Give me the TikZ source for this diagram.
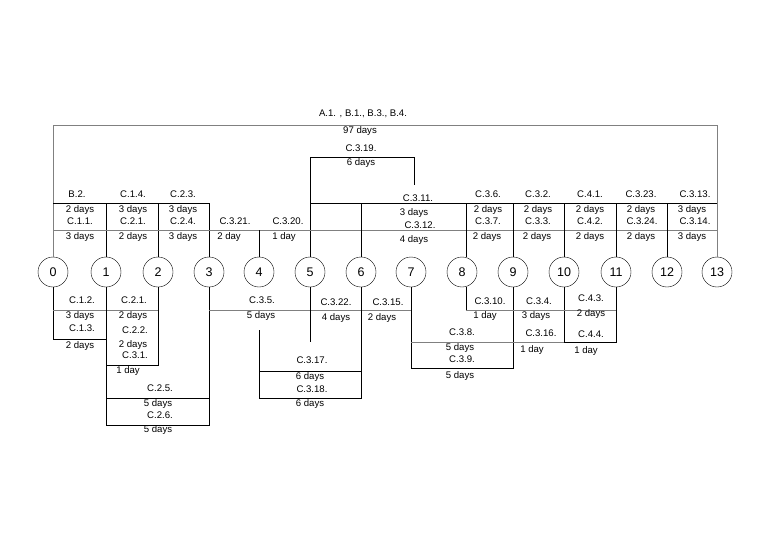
\documentclass[tikz,border=0pt]{standalone}
\usepackage{fontspec}
\setmainfont{Liberation Sans}
\begin{document}
\begin{tikzpicture}[x=1pt,y=-1pt,
  ev/.style={circle,draw,minimum size=30pt,inner sep=0pt,font=\fontsize{12.5}{12.5}\selectfont},
  ln/.style={line width=0.7pt},
  gl/.style={line width=0.7pt,draw=gray},
  lb/.style={font=\fontsize{9.6}{9.6}\selectfont,inner sep=0pt}]
\useasboundingbox (0,0) rectangle (768,543);
\foreach \i/\x in {0/53,1/106,2/158,3/209,4/259,5/310,6/361,7/411,8/462,9/513,10/564,11/616,12/667,13/717}
  \node[ev] (n\i) at (\x,272) {\i};
% top
\draw[gl] (n0.north) -- (53,125) -- (717,125) -- (n13.north);
\draw[ln] (n5.north) -- (310,157) -- (414,157) -- (414,185);
\draw[ln] (53,203) -- (209,203) -- (n3.north);
\draw[ln] (n1.north) -- (106,203);
\draw[ln] (n2.north) -- (158,203);
\draw[ln] (310,203) -- (717,203);
\draw[gl] (53,230) -- (717,230);
\draw[ln] (n4.north) -- (259,230);
\draw[ln] (n6.north) -- (361,203);
\draw[ln] (n8.75) -- (n8.75 |- 0,203);
\draw[ln] (n9.north) -- (513,203);
\draw[ln] (n10.north) -- (564,203);
\draw[ln] (n11.north) -- (616,203);
\draw[ln] (n12.north) -- (667,203);
% bottom
\draw[ln] (n0.south) -- (53,339) -- (106,339);
\draw[gl] (53,310) -- (158,310);
\draw[ln] (n1.south) -- (106,425) -- (209,425) -- (n3.south);
\draw[ln] (n2.south) -- (158,365) -- (106,365);
\draw[ln] (106,398) -- (209,398);
\draw[gl] (209,310) -- (411,310);
\draw[ln] (n7.south) -- (411,368) -- (513,368) -- (n9.south);
\draw[ln] (259,330) -- (259,398) -- (361,398) -- (n6.south);
\draw[ln] (259,371) -- (361,371);
\draw[ln] (n5.south) -- (310,342);
\draw[gl] (411,342) -- (564,342);
\draw[ln] (n10.south) -- (564,342) -- (616,342) -- (n11.south);
\draw[ln] (n8.285) -- (n8.285 |- 0,310);
\draw[gl] (n8.285 |- 0,310) -- (616,310);
% labels
\foreach \t/\x/\y in {
 {A.1. , B.1., B.3., B.4.}/363/114, {97 days}/360/131, {C.3.19.}/361/148, {6 days}/361/163,
 {B.2.}/77/194, {2 days}/80/210, {C.1.1.}/80/221, {3 days}/80/237,
 {C.1.4.}/133/194, {3 days}/133/210, {C.2.1.}/133/221, {2 days}/133/237,
 {C.2.3.}/183/194, {3 days}/183/210, {C.2.4.}/183/221, {3 days}/183/237,
 {C.3.21.}/235/221, {2 day}/229/237, {C.3.20.}/288/221, {1 day}/284/237,
 {C.3.11.}/418/198, {3 days}/414/213, {C.3.12.}/420/225, {4 days}/414/240,
 {C.3.6.}/488/194, {2 days}/488/210, {C.3.7.}/488/221, {2 days}/487/237,
 {C.3.2.}/538/194, {2 days}/538/210, {C.3.3.}/538/221, {2 days}/537/237,
 {C.4.1.}/590/194, {2 days}/590/210, {C.4.2.}/590/221, {2 days}/590/237,
 {C.3.23.}/641/194, {2 days}/641/210, {C.3.24.}/642/221, {2 days}/641/237,
 {C.3.13.}/695/194, {3 days}/692/210, {C.3.14.}/695/221, {3 days}/692/237,
 {C.1.2.}/82/300, {3 days}/80/316, {C.1.3.}/82/328, {2 days}/80/346,
 {C.2.1.}/134/300, {2 days}/133/316, {C.2.2.}/135/330, {2 days}/133/345, {C.3.1.}/135/355, {1 day}/128/371,
 {C.2.5.}/160/388, {5 days}/158/404, {C.2.6.}/160/415, {5 days}/158/430,
 {C.3.5.}/262/300, {5 days}/261/316, {C.3.22.}/336/302, {4 days}/336/318,
 {C.3.15.}/388/302, {2 days}/382/318,
 {C.3.17.}/312/360, {6 days}/310/377, {C.3.18.}/312/389, {6 days}/310/404,
 {C.3.8.}/462/332, {5 days}/460/348, {C.3.9.}/462/359, {5 days}/460/376,
 {C.3.10.}/490/301, {1 day}/485/316, {C.3.4.}/539/301, {3 days}/536/316,
 {C.3.16.}/541/333, {1 day}/532/350, {C.4.3.}/591/298, {2 days}/591/314,
 {C.4.4.}/591/334, {1 day}/586/351}
  \node[lb] at (\x,\y) {\t};
\end{tikzpicture}
\end{document}
